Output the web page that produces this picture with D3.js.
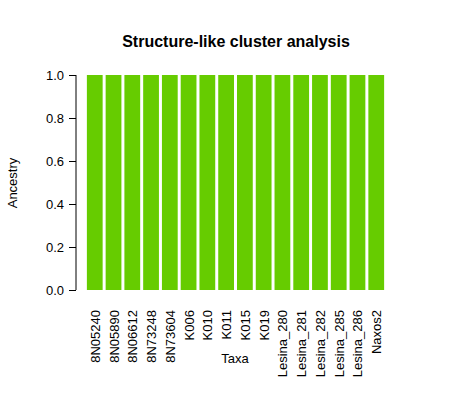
<!DOCTYPE html>
<html><head><meta charset="utf-8">
<script src="https://cdn.jsdelivr.net/npm/d3@7"></script>
<style>body{margin:0;background:#fff}text{font-family:Arial,"Liberation Sans",sans-serif}</style>
</head><body><div id="chart"></div>
<script>
const taxa = ['8N05240','8N05890','8N06612','8N73248','8N73604','K006','K010','K011','K015','K019','Lesina_280','Lesina_281','Lesina_282','Lesina_285','Lesina_286','Naxos2'];
const ancestry = [1,1,1,1,1,1,1,1,1,1,1,1,1,1,1,1];
const yTicks = [0, 0.2, 0.4, 0.6, 0.8, 1.0];

const svg = d3.select('#chart').append('svg').attr('width', 472).attr('height', 407);

const x = d3.scaleBand().domain(taxa).range([85, 386]).paddingInner(0.16).paddingOuter(0.1);
const y = d3.scaleLinear().domain([0, 1]).range([290, 75]);

svg.selectAll('rect').data(taxa).enter().append('rect')
  .attr('x', d => x(d)).attr('width', x.bandwidth())
  .attr('y', (d, i) => y(ancestry[i])).attr('height', (d, i) => y(0) - y(ancestry[i]))
  .attr('fill', '#66cc00');

// y axis
const yaxis = svg.append('g').attr('transform', 'translate(76,0)')
  .call(d3.axisLeft(y).tickValues(yTicks).tickFormat(d3.format('.1f')).tickSize(7).tickPadding(5));
yaxis.selectAll('path,line').attr('stroke', '#000');
yaxis.select('.domain').attr('d', `M0,${y(0)}V${y(1)}`);
yaxis.selectAll('text').attr('font-size', 13).attr('fill', '#000').attr('font-family', 'Arial,"Liberation Sans",sans-serif');

// x labels
svg.selectAll('.xl').data(taxa).enter().append('text')
  .attr('transform', d => `translate(${x(d) + x.bandwidth() / 2 + 5},310) rotate(-90)`)
  .attr('text-anchor', 'end').attr('font-size', 13).text(d => d);

svg.append('text').attr('x', 235).attr('y', 363).attr('text-anchor', 'middle').attr('font-size', 13).text('Taxa');
svg.append('text').attr('transform', 'translate(17,183) rotate(-90)').attr('text-anchor', 'middle').attr('font-size', 13).text('Ancestry');
svg.append('text').attr('x', 236).attr('y', 47).attr('text-anchor', 'middle').attr('font-size', 16).attr('font-weight', 'bold').text('Structure-like cluster analysis');
</script></body></html>
